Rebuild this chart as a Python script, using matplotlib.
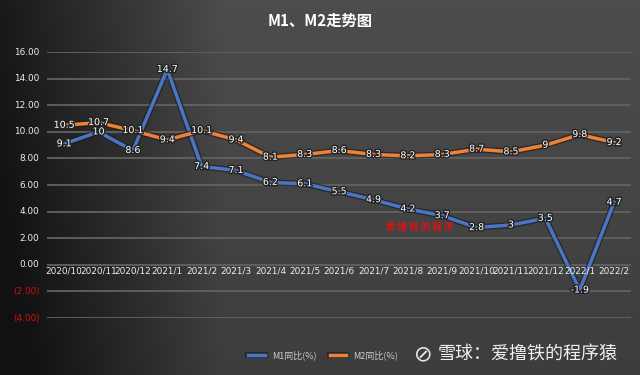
import matplotlib
matplotlib.use('Agg')
import matplotlib.pyplot as plt
import matplotlib.patheffects as pe
import numpy as np

plt.rcParams['font.family'] = ['Noto Sans CJK SC', 'DejaVu Sans']

# data
months = ['2020/10', '2020/11', '2020/12', '2021/1', '2021/2', '2021/3', '2021/4',
          '2021/5', '2021/6', '2021/7', '2021/8', '2021/9', '2021/10', '2021/11',
          '2021/12', '2022/1', '2022/2']
m1 = [9.1, 10, 8.6, 14.7, 7.4, 7.1, 6.2, 6.1, 5.5, 4.9, 4.2, 3.7, 2.8, 3, 3.5, -1.9, 4.7]
m2 = [10.5, 10.7, 10.1, 9.4, 10.1, 9.4, 8.1, 8.3, 8.6, 8.3, 8.2, 8.3, 8.7, 8.5, 9, 9.8, 9.2]
y_ticks = [-4, -2, 0, 2, 4, 6, 8, 10, 12, 14, 16]

blue = '#4a74c4'
orange = '#ee8236'

fig = plt.figure(figsize=(6.4, 3.75), dpi=100)

# background gradient
bg = fig.add_axes([0, 0, 1, 1])
xx, yy = np.meshgrid(np.linspace(0, 1, 320), np.linspace(0, 1, 200))
shade = 0.30 - 0.20 * np.clip(0.35 - xx, 0, None) / 0.35 - 0.06 * yy
shade = np.clip(shade, 0.07, 0.35)
bg.imshow(np.dstack([shade] * 3), extent=[0, 1, 0, 1], aspect='auto', origin='upper')
bg.axis('off')

ax = fig.add_axes([0.0734, 0.152, 0.913, 0.709])
ax.set_facecolor('none')
x = np.arange(len(months))
ax.set_xlim(-0.5, len(months) - 0.5)
ax.set_ylim(-4, 16)

for t in y_ticks:
    ax.axhline(t, color='#626262', lw=1.3, zorder=1)

stroke = [pe.Stroke(linewidth=4.5, foreground='#1a1a1a', alpha=0.6), pe.Normal()]
ax.plot(x, m1, color=blue, lw=2.5, zorder=3, path_effects=stroke, label='M1同比(%)')
ax.plot(x, m2, color=orange, lw=2.5, zorder=3, path_effects=stroke, label='M2同比(%)')

outline = [pe.withStroke(linewidth=2, foreground='#222222')]
for xi, v in zip(x, m1):
    ax.text(xi, v, f'{v:g}', color='white', fontsize=6.8, ha='center', va='center',
            zorder=5, path_effects=outline, family='DejaVu Sans')
for xi, v in zip(x, m2):
    ax.text(xi, v, f'{v:g}', color='white', fontsize=6.8, ha='center', va='center',
            zorder=5, path_effects=outline, family='DejaVu Sans')

# category labels sit just under the zero line
for xi, m in zip(x, months):
    ax.text(xi, -0.5, m, color='#eeeeee', fontsize=6.4, ha='center', va='center',
            family='DejaVu Sans')

# y tick labels, negatives red in brackets
for t in y_ticks:
    if t < 0:
        s, c = f'({abs(t):.2f})', '#cc1010'
    else:
        s, c = f'{t:.2f}', '#eeeeee'
    ax.text(-0.72, t, s, color=c, fontsize=6.4, ha='right', va='center',
            family='DejaVu Sans')

ax.set_xticks([])
ax.set_yticks([])
for sp in ax.spines.values():
    sp.set_visible(False)

fig.text(0.5, 0.945, 'M1、M2走势图', color='white', fontsize=11, fontweight='bold',
         ha='center', va='center')

# small red note
ax.text(10.35, 2.85, '爱 撸 铁 的 程 序', color='#dd1111', fontsize=6.8, ha='center',
        va='center', zorder=4, fontweight='bold')

leg = fig.legend(loc='center', bbox_to_anchor=(0.505, 0.053), ncol=2, frameon=False,
                 fontsize=6.5, handlelength=1.8, columnspacing=1.5)
for t in leg.get_texts():
    t.set_color('#cccccc')

# watermark
fig.text(0.661, 0.055, '⊘', color='#e8e8e8', fontsize=16, ha='center', va='center',
         family='DejaVu Sans')
fig.text(0.684, 0.055, '雪球：爱撸铁的程序猿', color='#eeeeee', fontsize=13,
         ha='left', va='center')

plt.savefig('out.png', dpi=100)
